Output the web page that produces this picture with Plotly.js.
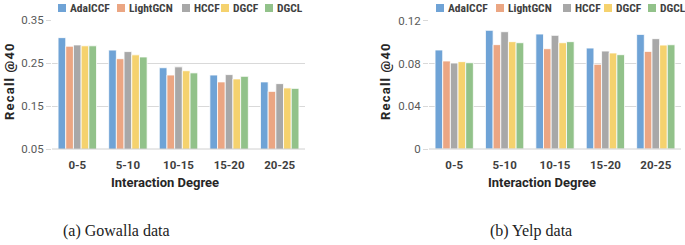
<!DOCTYPE html>
<html><head><meta charset="utf-8">
<script src="https://cdn.plot.ly/plotly-3.0.1.min.js"></script>
<style>html,body{margin:0;padding:0;background:#fff;}#c{width:685px;height:245px;}</style>
</head><body><div id="c"></div>
<script>
const categories = ['0-5','5-10','10-15','15-20','20-25'];
const methods = ['AdaICCF','LightGCN','HCCF','DGCF','DGCL'];
const colors = ['#6FA3D6','#EBA683','#A8A8A8','#F5D26E','#92C28A'];
// Gowalla Recall@40
const gowalla_AdaICCF = [0.309,0.280,0.239,0.222,0.206];
const gowalla_LightGCN = [0.289,0.260,0.222,0.206,0.184];
const gowalla_HCCF = [0.292,0.2765,0.241,0.223,0.202];
const gowalla_DGCF = [0.290,0.269,0.232,0.213,0.192];
const gowalla_DGCL = [0.290,0.264,0.227,0.219,0.191];
// Yelp Recall@40
const yelp_AdaICCF = [0.0926,0.1110,0.1075,0.0944,0.1072];
const yelp_LightGCN = [0.0823,0.0976,0.0938,0.0792,0.0913];
const yelp_HCCF = [0.0804,0.1097,0.1063,0.0916,0.1032];
const yelp_DGCF = [0.0817,0.1004,0.0994,0.0898,0.0972];
const yelp_DGCL = [0.0807,0.0994,0.1004,0.0882,0.0975];
const gowallaTicks = [0.05,0.15,0.25,0.35];
const yelpTicks = [0,0.04,0.08,0.12];
const captions = ['(a) Gowalla data','(b) Yelp data'];
const xTitle = 'Interaction Degree';
const yTitle = 'Recall @40';

const gow = [gowalla_AdaICCF,gowalla_LightGCN,gowalla_HCCF,gowalla_DGCF,gowalla_DGCL];
const yel = [yelp_AdaICCF,yelp_LightGCN,yelp_HCCF,yelp_DGCF,yelp_DGCL];

const W = 685, H = 245;
const px = v => v / W, py = v => 1 - v / H;
const traces = [];
methods.forEach((m,i)=>{
  traces.push({type:'bar',x:categories,y:gow[i],name:m,xaxis:'x',yaxis:'y',showlegend:false,
    marker:{color:colors[i],line:{color:'#ffffff',width:0.8}}});
  traces.push({type:'bar',x:categories,y:yel[i],name:m,xaxis:'x2',yaxis:'y2',showlegend:false,
    marker:{color:colors[i],line:{color:'#ffffff',width:0.8}}});
});

const tickFont = {family:'Roboto, sans-serif',size:11.5,color:'#595959'};
const xTickFont = {family:'Roboto, sans-serif',size:11.5,color:'#404040',weight:'bold'};
const legFont = {family:'Liberation Sans Narrow, Roboto Condensed, Roboto, sans-serif',size:11.5,color:'#404040',weight:'bold'};
const xa = (dom)=>({domain:dom,type:'category',showgrid:false,showline:false,zeroline:false,ticks:'',
  ticklabelstandoff:7,tickfont:xTickFont,fixedrange:true});
const ya = (dom,rng,tv,anchor)=>({domain:dom,range:rng,tickvals:tv,ticktext:tv.map(v=>String(v)),anchor:anchor,
  showgrid:true,gridcolor:'#D9D9D9',gridwidth:1,zeroline:false,showline:false,ticks:'outside',ticklen:5,
  tickcolor:'#D9D9D9',tickfont:tickFont,fixedrange:true});

const shapes = [], annotations = [];
// baselines
[[52,305],[429,681]].forEach(([a,b])=>{
  shapes.push({type:'line',xref:'paper',yref:'paper',x0:px(a),x1:px(b),y0:py(149),y1:py(149),line:{color:'#D0D0D0',width:1}});
});
// legends
const legStarts = [[58,117,182,221,265],[436,496,563,604,648]];
legStarts.forEach(starts=>{
  methods.forEach((m,i)=>{
    const x0 = starts[i];
    shapes.push({type:'rect',xref:'paper',yref:'paper',x0:px(x0),x1:px(x0+8),y0:py(12),y1:py(4),
      fillcolor:colors[i],line:{width:0}});
    annotations.push({xref:'paper',yref:'paper',x:px(x0+10),y:py(8),xanchor:'left',yanchor:'middle',
      text:m,showarrow:false,font:legFont});
  });
});
// axis titles
[[165,10],[542,386]].forEach(([xc,yx])=>{
  annotations.push({xref:'paper',yref:'paper',x:px(xc),y:py(182),xanchor:'center',yanchor:'middle',
    text:xTitle,showarrow:false,font:{family:'Roboto, sans-serif',size:13,color:'#262626',weight:'bold'}});
  annotations.push({xref:'paper',yref:'paper',x:px(yx),y:py(81),xanchor:'center',yanchor:'middle',textangle:-90,
    text:yTitle,showarrow:false,font:{family:'Roboto, sans-serif',size:13,color:'#262626',weight:'bold'}});
});
// captions
[[116,captions[0]],[531,captions[1]]].forEach(([xc,t])=>{
  annotations.push({xref:'paper',yref:'paper',x:px(xc),y:py(231),xanchor:'center',yanchor:'middle',
    text:t,showarrow:false,font:{family:'Liberation Serif, serif',size:16,color:'#222222'}});
});

const layout = {
  width:W,height:H,margin:{l:0,r:0,t:0,b:0},paper_bgcolor:'#fff',plot_bgcolor:'#fff',
  barmode:'group',bargap:0.24,bargroupgap:0,showlegend:false,
  xaxis:xa([px(52),px(305)]),
  xaxis2:xa([px(429),px(681)]),
  yaxis:ya([py(149),py(20)],[0.05,0.35],gowallaTicks,'x'),
  yaxis2:ya([py(149),py(20.7)],[0,0.12],yelpTicks,'x2'),
  shapes:shapes,annotations:annotations
};
layout.xaxis2.anchor='y2';
layout.xaxis.anchor='y';
Plotly.newPlot('c',traces,layout,{staticPlot:true,displayModeBar:false}).then(()=>{
  document.querySelectorAll('.annotation-text').forEach(t=>{
    if(t.textContent===yTitle) t.setAttribute('letter-spacing','1.2');
  });
});
</script></body></html>
